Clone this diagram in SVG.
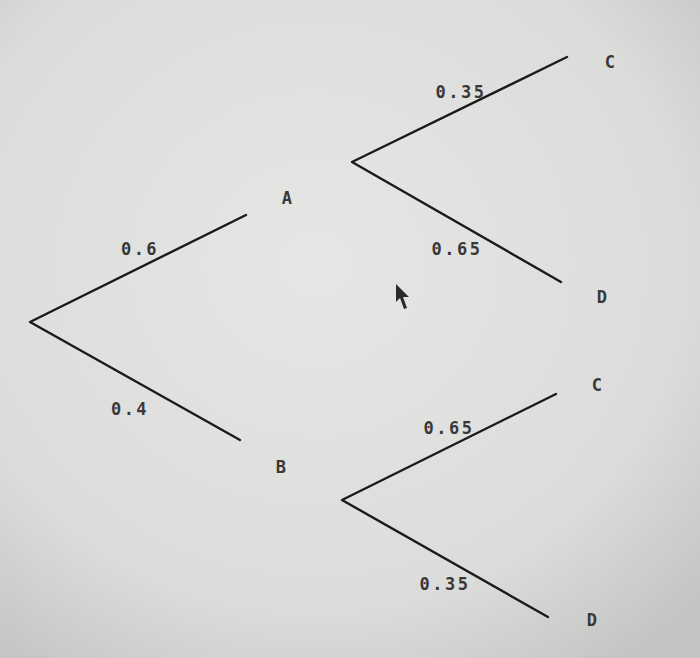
<svg xmlns="http://www.w3.org/2000/svg" width="700" height="658" viewBox="0 0 700 658">
<defs>
<radialGradient id="bg" cx="0.45" cy="0.4" r="0.75">
<stop offset="0" stop-color="#e6e6e4"/>
<stop offset="0.7" stop-color="#dcdcda"/>
<stop offset="1" stop-color="#c4c4c2"/>
</radialGradient>
<style>
.br{stroke:#1a1a1a;stroke-width:2.4;fill:none;stroke-linecap:round;stroke-linejoin:round}
.lb{font-family:"DejaVu Sans Mono","Liberation Mono",monospace;font-size:17px;font-weight:bold;letter-spacing:2.5px;fill:#383838;text-anchor:middle}
</style>
</defs>
<rect width="700" height="658" fill="url(#bg)"/>
<g id="connectors">
<polyline class="br" points="246,215 30,322 240,440"/>
<polyline class="br" points="567,57 352,162 561,282"/>
<polyline class="br" points="556,394 342,500 548,617"/>
</g>
<g id="labels-edges">
<text class="lb" x="140" y="255">0.6</text>
<text class="lb" x="130" y="415">0.4</text>
<text class="lb" x="461" y="98">0.35</text>
<text class="lb" x="457" y="255">0.65</text>
<text class="lb" x="449" y="434">0.65</text>
<text class="lb" x="445" y="590">0.35</text>
</g>
<g id="node-A"><text class="lb" x="288" y="204">A</text></g>
<g id="node-B"><text class="lb" x="282" y="473">B</text></g>
<g id="node-C1"><text class="lb" x="611" y="68">C</text></g>
<g id="node-D1"><text class="lb" x="603" y="303">D</text></g>
<g id="node-C2"><text class="lb" x="598" y="391">C</text></g>
<g id="node-D2"><text class="lb" x="593" y="626">D</text></g>
<g id="cursor"><polygon points="396,284 396,302 400,298 404,309 407,308 403,297 409,297" fill="#2a2a2a"/></g>
</svg>
